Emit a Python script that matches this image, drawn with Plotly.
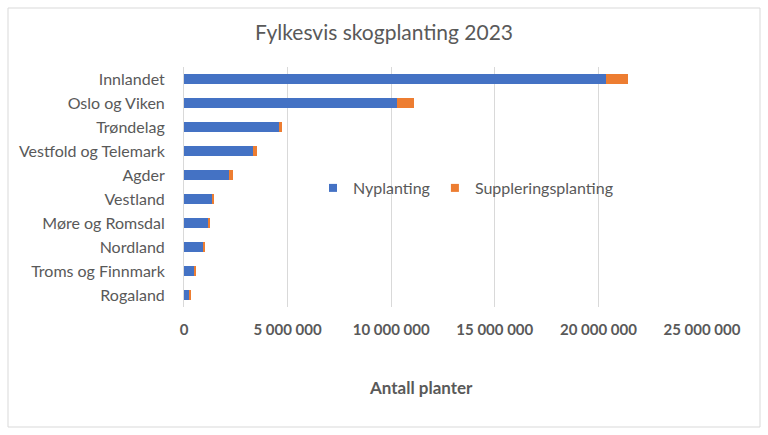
import plotly.graph_objects as go

categories = ["Innlandet", "Oslo og Viken", "Trøndelag", "Vestfold og Telemark", "Agder",
              "Vestland", "Møre og Romsdal", "Nordland", "Troms og Finnmark", "Rogaland"]
nyplanting = [20390000, 10270000, 4570000, 3350000, 2170000, 1370000, 1180000, 950000, 530000, 270000]
supplering = [1050000, 820000, 160000, 180000, 180000, 80000, 60000, 30000, 20000, 70000]
series_names = ["Nyplanting", "Suppleringsplanting"]
series_colors = ["#4472C4", "#ED7D31"]
x_ticks = [0, 5000000, 10000000, 15000000, 20000000, 25000000]

FONT = "Lato"
GRAY = "#595959"

fig = go.Figure()
for vals, name, col in zip([nyplanting, supplering], series_names, series_colors):
    fig.add_trace(go.Bar(y=categories, x=vals, name=name, orientation="h",
                         marker=dict(color=col, line=dict(width=0)), showlegend=False))
# legend entries with small square symbols
for name, col in zip(series_names, series_colors):
    fig.add_trace(go.Scatter(x=[None], y=[None], mode="markers", name=name,
                             marker=dict(symbol="square", size=8, color=col)))

PW = 518.0
PH = 240.0

fig.update_layout(
    barmode="stack",
    bargap=0.62,
    width=768, height=435,
    margin=dict(l=184, r=66, t=67, b=128),
    paper_bgcolor="white", plot_bgcolor="white",
    separators=", ",
    font=dict(family=FONT, color=GRAY, size=15),
    title=dict(text="Fylkesvis skogplanting 2023", x=0.5, xanchor="center",
               y=1 - 33 / 435, yanchor="middle",
               font=dict(family=FONT, size=21, color=GRAY)),
    legend=dict(orientation="h", x=(313 - 184) / PW, y=(307 - 188) / PH,
                xanchor="left", yanchor="middle", bgcolor="rgba(0,0,0,0)",
                font=dict(family=FONT, size=16, color=GRAY), itemwidth=30,
                traceorder="normal"),
    showlegend=True,
    xaxis=dict(range=[0, 25000000], tickvals=x_ticks, tickformat=",d",
               showgrid=True, gridcolor="#D9D9D9", gridwidth=1, zeroline=False,
               showline=False, ticks="", ticklabelstandoff=12,
               tickfont=dict(family=FONT, size=15, color=GRAY, weight="bold")),
    yaxis=dict(autorange="reversed", showgrid=False, showline=True, linecolor="#D9D9D9",
               ticks="", ticklabelstandoff=15,
               tickfont=dict(family=FONT, size=16, color=GRAY)),
    annotations=[dict(text="<b>Antall planter</b>", xref="paper", yref="paper",
                      x=(421 - 184) / PW, y=(307 - 387) / PH, xanchor="center", yanchor="middle",
                      showarrow=False, font=dict(family=FONT, size=17, color=GRAY))],
    shapes=[dict(type="rect", xref="paper", yref="paper",
                 x0=(8 - 184) / PW, x1=(760 - 184) / PW,
                 y0=(307 - 427) / PH, y1=(307 - 8) / PH,
                 line=dict(color="#D9D9D9", width=1), fillcolor="rgba(0,0,0,0)", layer="below")],
)

fig.write_html("out.html", config={"displayModeBar": False},
               post_script="document.body.style.margin='0px';")
